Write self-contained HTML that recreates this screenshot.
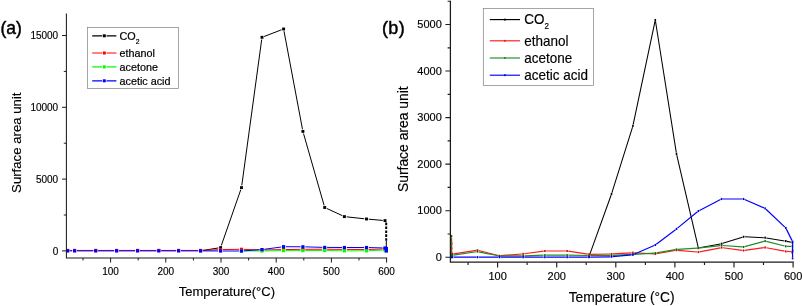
<!DOCTYPE html>
<html lang="en">
<head>
<meta charset="utf-8">
<title>Surface area unit vs Temperature</title>
<style>
html,body{margin:0;padding:0;background:#fff;}
body{width:802px;height:306px;overflow:hidden;}
svg{display:block;font-family:"Liberation Sans",Arial,Helvetica,sans-serif;fill:#000;}
.t10{font-size:10px;stroke:#000;stroke-width:0.15px;}
.sw{stroke:#000;stroke-width:0.15px;}
.t11{font-size:11px;stroke:#000;stroke-width:0.15px;}
.pl{font-size:17.5px;stroke:#000;stroke-width:0.45px;}
</style>
</head>
<body>
<svg width="802" height="306" viewBox="0 0 802 306">
<rect width="802" height="306" fill="#fff"/>
<!-- panel (a) -->
<g id="panel-a">
<text x="110.6" y="274.9" text-anchor="middle" class="t10">100</text><text x="165.8" y="274.9" text-anchor="middle" class="t10">200</text><text x="221.0" y="274.9" text-anchor="middle" class="t10">300</text><text x="276.2" y="274.9" text-anchor="middle" class="t10">400</text><text x="331.4" y="274.9" text-anchor="middle" class="t10">500</text><text x="386.6" y="274.9" text-anchor="middle" class="t10">600</text><text x="58.2" y="254.5" text-anchor="end" class="t10">0</text><text x="58.2" y="182.7" text-anchor="end" class="t10">5000</text><text x="58.2" y="110.9" text-anchor="end" class="t10">10000</text><text x="58.2" y="39.1" text-anchor="end" class="t10">15000</text>
<g><path d="M202.82 250.44L218.38 247.96M221.34 245.48L240.76 189.72M241.80 185.37L261.70 39.53M264.10 36.49L281.50 29.81M284.02 31.21L302.48 129.19M303.52 133.56L324.08 205.34M326.74 208.44L342.36 215.66M346.64 216.84L364.26 218.76M368.74 219.19L382.76 220.41" fill="none" stroke="#000" stroke-width="1.0"/><rect x="199.15" y="249.35" width="2.9" height="2.9" fill="#000"/><rect x="219.15" y="246.15" width="2.9" height="2.9" fill="#000"/><rect x="240.05" y="186.15" width="2.9" height="2.9" fill="#000"/><rect x="260.55" y="35.85" width="2.9" height="2.9" fill="#000"/><rect x="282.15" y="27.55" width="2.9" height="2.9" fill="#000"/><rect x="301.45" y="129.95" width="2.9" height="2.9" fill="#000"/><rect x="323.25" y="206.05" width="2.9" height="2.9" fill="#000"/><rect x="342.95" y="215.15" width="2.9" height="2.9" fill="#000"/><rect x="365.05" y="217.55" width="2.9" height="2.9" fill="#000"/><rect x="383.55" y="219.15" width="2.9" height="2.9" fill="#000"/><path d="M386.2 222.6V241.5" stroke="#000" stroke-width="2" stroke-dasharray="2.6 1.3" fill="none"/><path d="M386.3 241V250" stroke="#000" stroke-width="1" fill="none"/><path d="M70.10 250.45L72.20 250.45M77.00 250.45L93.30 250.45M98.10 250.45L114.20 250.45M119.00 250.45L135.20 250.45M140.00 250.45L156.40 250.45M161.20 250.45L176.20 250.45M181.00 250.45L198.20 250.45M203.00 250.35L218.20 249.70M223.00 249.57L239.10 249.33M243.90 249.38L259.60 249.92M264.40 249.96L281.20 249.64M286.00 249.56L300.50 249.34M305.30 249.29L322.30 249.21M327.10 249.22L342.00 249.38M346.80 249.41L364.10 249.49M368.90 249.44L382.60 249.06" fill="none" stroke="#f00" stroke-width="1.0"/><rect x="66.10" y="248.85" width="3.2" height="3.2" fill="#f00"/><rect x="73.00" y="248.85" width="3.2" height="3.2" fill="#f00"/><rect x="94.10" y="248.85" width="3.2" height="3.2" fill="#f00"/><rect x="115.00" y="248.85" width="3.2" height="3.2" fill="#f00"/><rect x="136.00" y="248.85" width="3.2" height="3.2" fill="#f00"/><rect x="157.20" y="248.85" width="3.2" height="3.2" fill="#f00"/><rect x="177.00" y="248.85" width="3.2" height="3.2" fill="#f00"/><rect x="199.00" y="248.85" width="3.2" height="3.2" fill="#f00"/><rect x="219.00" y="248.00" width="3.2" height="3.2" fill="#f00"/><rect x="239.90" y="247.70" width="3.2" height="3.2" fill="#f00"/><rect x="260.40" y="248.40" width="3.2" height="3.2" fill="#f00"/><rect x="282.00" y="248.00" width="3.2" height="3.2" fill="#f00"/><rect x="301.30" y="247.70" width="3.2" height="3.2" fill="#f00"/><rect x="323.10" y="247.60" width="3.2" height="3.2" fill="#f00"/><rect x="342.80" y="247.80" width="3.2" height="3.2" fill="#f00"/><rect x="364.90" y="247.90" width="3.2" height="3.2" fill="#f00"/><rect x="383.40" y="247.40" width="3.2" height="3.2" fill="#f00"/><rect x="384.70" y="247.20" width="3.2" height="3.2" fill="#f00"/><rect x="384.70" y="248.60" width="3.2" height="3.2" fill="#f00"/><path d="M243.90 251.00L259.60 251.00M264.40 250.96L281.20 250.64M286.00 250.60L300.50 250.60M305.30 250.59L322.30 250.51M327.10 250.54L342.00 250.76M346.80 250.80L364.10 250.80M368.90 250.70L382.60 250.10" fill="none" stroke="#0f0" stroke-width="1.0"/><rect x="239.90" y="249.40" width="3.2" height="3.2" fill="#0f0"/><rect x="260.40" y="249.40" width="3.2" height="3.2" fill="#0f0"/><rect x="282.00" y="249.00" width="3.2" height="3.2" fill="#0f0"/><rect x="301.30" y="249.00" width="3.2" height="3.2" fill="#0f0"/><rect x="323.10" y="248.90" width="3.2" height="3.2" fill="#0f0"/><rect x="342.80" y="249.20" width="3.2" height="3.2" fill="#0f0"/><rect x="364.90" y="249.20" width="3.2" height="3.2" fill="#0f0"/><rect x="383.40" y="248.40" width="3.2" height="3.2" fill="#0f0"/><rect x="384.70" y="247.90" width="3.2" height="3.2" fill="#0f0"/><rect x="384.70" y="249.00" width="3.2" height="3.2" fill="#0f0"/><path d="M70.10 250.90L72.20 250.90M77.00 250.90L93.30 250.90M98.10 250.90L114.20 250.90M119.00 250.90L135.20 250.90M140.00 250.90L156.40 250.90M161.20 250.90L176.20 250.90M181.00 250.90L198.20 250.90M203.00 250.91L218.20 250.99M223.00 251.00L239.10 251.00M243.89 250.84L259.61 249.76M264.38 249.28L281.22 247.02M286.00 246.71L300.50 246.79M305.30 246.87L322.30 247.33M327.10 247.41L342.00 247.49M346.80 247.50L364.10 247.50M368.90 247.56L382.60 247.94" fill="none" stroke="#00f" stroke-width="1.0"/><rect x="66.10" y="249.30" width="3.2" height="3.2" fill="#00f"/><rect x="73.00" y="249.30" width="3.2" height="3.2" fill="#00f"/><rect x="94.10" y="249.30" width="3.2" height="3.2" fill="#00f"/><rect x="115.00" y="249.30" width="3.2" height="3.2" fill="#00f"/><rect x="136.00" y="249.30" width="3.2" height="3.2" fill="#00f"/><rect x="157.20" y="249.30" width="3.2" height="3.2" fill="#00f"/><rect x="177.00" y="249.30" width="3.2" height="3.2" fill="#00f"/><rect x="199.00" y="249.30" width="3.2" height="3.2" fill="#00f"/><rect x="219.00" y="249.40" width="3.2" height="3.2" fill="#00f"/><rect x="239.90" y="249.40" width="3.2" height="3.2" fill="#00f"/><rect x="260.40" y="248.00" width="3.2" height="3.2" fill="#00f"/><rect x="282.00" y="245.10" width="3.2" height="3.2" fill="#00f"/><rect x="301.30" y="245.20" width="3.2" height="3.2" fill="#00f"/><rect x="323.10" y="245.80" width="3.2" height="3.2" fill="#00f"/><rect x="342.80" y="245.90" width="3.2" height="3.2" fill="#00f"/><rect x="364.90" y="245.90" width="3.2" height="3.2" fill="#00f"/><rect x="383.40" y="246.40" width="3.2" height="3.2" fill="#00f"/><rect x="384.70" y="246.90" width="3.2" height="3.2" fill="#00f"/><rect x="384.70" y="249.40" width="3.2" height="3.2" fill="#00f"/></g>
<path d="M66.4 14.0V257.9H386.6" fill="none" stroke="#1c1c1c" stroke-width="1.05" stroke-linecap="square"/><path d="M83.0 257.9v2.6 M110.6 257.9v4.7 M138.2 257.9v2.6 M165.8 257.9v4.7 M193.4 257.9v2.6 M221.0 257.9v4.7 M248.6 257.9v2.6 M276.2 257.9v4.7 M303.8 257.9v2.6 M331.4 257.9v4.7 M359.0 257.9v2.6 M386.6 257.9v4.7 M66.4 250.9h-4.4 M66.4 215.0h-2.6 M66.4 179.1h-4.4 M66.4 143.2h-2.6 M66.4 107.3h-4.4 M66.4 71.4h-2.6 M66.4 35.5h-4.4" fill="none" stroke="#1c1c1c" stroke-width="1.0"/>
<rect x="87.5" y="27.6" width="91.0" height="60.8" fill="#fff" stroke="#7f7f7f" stroke-width="0.7"/><path d="M92.2 35.8H102.10M106.50 35.8H116.4" stroke="#000" stroke-width="1.2"/><rect x="102.80" y="34.30" width="3.0" height="3.0" fill="#000"/><text x="119.5" y="39.5" font-size="10.8" stroke="#000" stroke-width="0.2">CO<tspan dy="4.2" font-size="6.8">2</tspan></text><path d="M92.2 53.0H102.10M106.50 53.0H116.4" stroke="#f00" stroke-width="1.2"/><rect x="102.80" y="51.50" width="3.0" height="3.0" fill="#f00"/><text x="119.5" y="57.0" font-size="10.8" stroke="#000" stroke-width="0.2">ethanol</text><path d="M92.2 66.9H102.10M106.50 66.9H116.4" stroke="#0f0" stroke-width="1.2"/><rect x="102.80" y="65.40" width="3.0" height="3.0" fill="#0f0"/><text x="119.5" y="71.0" font-size="10.8" stroke="#000" stroke-width="0.2">acetone</text><path d="M92.2 80.8H102.10M106.50 80.8H116.4" stroke="#00f" stroke-width="1.2"/><rect x="102.80" y="79.30" width="3.0" height="3.0" fill="#00f"/><text x="119.5" y="84.7" font-size="10.8" stroke="#000" stroke-width="0.2">acetic acid</text>
<text class="pl" x="0.5" y="34.1">(a)</text>
<text x="226.9" y="295.6" text-anchor="middle" font-size="13" class="sw">Temperature(°C)</text>
<text transform="translate(20.9 142.7) rotate(-90)" text-anchor="middle" font-size="13.2" class="sw">Surface area unit</text>
</g>
<!-- panel (b) -->
<g id="panel-b">
<text x="497.6" y="280.3" text-anchor="middle" class="t11">100</text><text x="556.7" y="280.3" text-anchor="middle" class="t11">200</text><text x="615.8" y="280.3" text-anchor="middle" class="t11">300</text><text x="674.9" y="280.3" text-anchor="middle" class="t11">400</text><text x="734.0" y="280.3" text-anchor="middle" class="t11">500</text><text x="793.1" y="280.3" text-anchor="middle" class="t11">600</text><text x="441.8" y="260.9" text-anchor="end" class="t11">0</text><text x="441.8" y="214.3" text-anchor="end" class="t11">1000</text><text x="441.8" y="167.7" text-anchor="end" class="t11">2000</text><text x="441.8" y="121.2" text-anchor="end" class="t11">3000</text><text x="441.8" y="74.6" text-anchor="end" class="t11">4000</text><text x="441.8" y="28.1" text-anchor="end" class="t11">5000</text>
<g><path d="M589.42 255.32L611.08 195.28M611.87 192.91L632.53 127.09M633.16 124.68L655.04 21.22M655.50 21.23L676.30 152.67M676.78 155.12L698.12 246.78M699.63 247.77L720.37 243.93M722.79 243.32L742.31 237.18M744.75 236.85L763.85 237.65M766.33 237.90L784.57 240.90M787.02 241.37L791.28 242.33" fill="none" stroke="#000" stroke-width="1.05"/><rect x="588.20" y="255.45" width="1.6" height="2.1" fill="#000"/><rect x="610.70" y="193.05" width="1.6" height="2.1" fill="#000"/><rect x="632.10" y="124.85" width="1.6" height="2.1" fill="#000"/><rect x="654.50" y="18.95" width="1.6" height="2.1" fill="#000"/><rect x="675.70" y="152.85" width="1.6" height="2.1" fill="#000"/><rect x="697.60" y="246.95" width="1.6" height="2.1" fill="#000"/><rect x="720.80" y="242.65" width="1.6" height="2.1" fill="#000"/><rect x="742.70" y="235.75" width="1.6" height="2.1" fill="#000"/><rect x="764.30" y="236.65" width="1.6" height="2.1" fill="#000"/><rect x="785.00" y="240.05" width="1.6" height="2.1" fill="#000"/><rect x="791.70" y="241.55" width="1.6" height="2.1" fill="#000"/><path d="M451.60 244.25L451.60 246.75M451.60 249.25L451.60 251.75M453.64 253.81L476.16 250.39M478.61 250.51L498.29 255.49M500.75 255.70L521.85 254.00M524.34 253.74L543.66 251.16M546.15 251.00L565.85 251.00M568.34 251.19L587.76 254.11M590.25 254.28L610.25 254.02M612.75 253.92L631.65 252.78M634.15 252.77L654.05 253.93M656.53 253.78L675.27 250.42M677.75 250.31L697.15 251.99M699.63 251.86L720.37 247.84M722.84 247.76L742.26 250.34M744.74 250.33L763.86 247.67M766.33 247.73L784.57 251.17M787.05 251.47L791.25 251.73" fill="none" stroke="#ff1a1a" stroke-width="1.2"/><rect x="450.80" y="241.95" width="1.6" height="2.1" fill="#cc0c0c"/><rect x="450.80" y="246.95" width="1.6" height="2.1" fill="#cc0c0c"/><rect x="450.80" y="251.95" width="1.6" height="2.1" fill="#cc0c0c"/><rect x="451.60" y="252.95" width="1.6" height="2.1" fill="#cc0c0c"/><rect x="476.60" y="249.15" width="1.6" height="2.1" fill="#cc0c0c"/><rect x="498.70" y="254.75" width="1.6" height="2.1" fill="#cc0c0c"/><rect x="522.30" y="252.85" width="1.6" height="2.1" fill="#cc0c0c"/><rect x="544.10" y="249.95" width="1.6" height="2.1" fill="#cc0c0c"/><rect x="566.30" y="249.95" width="1.6" height="2.1" fill="#cc0c0c"/><rect x="588.20" y="253.25" width="1.6" height="2.1" fill="#cc0c0c"/><rect x="610.70" y="252.95" width="1.6" height="2.1" fill="#cc0c0c"/><rect x="632.10" y="251.65" width="1.6" height="2.1" fill="#cc0c0c"/><rect x="654.50" y="252.95" width="1.6" height="2.1" fill="#cc0c0c"/><rect x="675.70" y="249.15" width="1.6" height="2.1" fill="#cc0c0c"/><rect x="697.60" y="251.05" width="1.6" height="2.1" fill="#cc0c0c"/><rect x="720.80" y="246.55" width="1.6" height="2.1" fill="#cc0c0c"/><rect x="742.70" y="249.45" width="1.6" height="2.1" fill="#cc0c0c"/><rect x="764.30" y="246.45" width="1.6" height="2.1" fill="#cc0c0c"/><rect x="785.00" y="250.35" width="1.6" height="2.1" fill="#cc0c0c"/><rect x="791.70" y="250.75" width="1.6" height="2.1" fill="#cc0c0c"/><rect x="791.40" y="251.45" width="1.6" height="2.1" fill="#cc0c0c"/><path d="M451.50 237.25L451.50 253.75M453.64 255.12L476.16 251.78M478.63 251.84L498.27 255.76M500.75 255.99L521.85 255.91M524.35 255.85L543.65 255.15M546.15 255.10L565.85 255.10M568.35 255.12L587.75 255.48M590.25 255.49L610.25 255.41M612.75 255.34L631.65 254.46M634.15 254.33L654.05 253.17M656.53 252.89L675.27 249.61M677.75 249.33L697.15 248.17M699.64 247.96L720.36 245.54M722.85 245.49L742.25 246.91M744.71 246.67L763.89 241.43M766.31 241.40L784.59 246.00M787.05 246.30L791.25 246.30M792.53 247.55L792.57 249.25" fill="none" stroke="#1e8c28" stroke-width="1.2"/><rect x="450.70" y="234.95" width="1.6" height="2.1" fill="#0e6416"/><rect x="450.70" y="253.95" width="1.6" height="2.1" fill="#0e6416"/><rect x="451.60" y="254.25" width="1.6" height="2.1" fill="#0e6416"/><rect x="476.60" y="250.55" width="1.6" height="2.1" fill="#0e6416"/><rect x="498.70" y="254.95" width="1.6" height="2.1" fill="#0e6416"/><rect x="522.30" y="254.85" width="1.6" height="2.1" fill="#0e6416"/><rect x="544.10" y="254.05" width="1.6" height="2.1" fill="#0e6416"/><rect x="566.30" y="254.05" width="1.6" height="2.1" fill="#0e6416"/><rect x="588.20" y="254.45" width="1.6" height="2.1" fill="#0e6416"/><rect x="610.70" y="254.35" width="1.6" height="2.1" fill="#0e6416"/><rect x="632.10" y="253.35" width="1.6" height="2.1" fill="#0e6416"/><rect x="654.50" y="252.05" width="1.6" height="2.1" fill="#0e6416"/><rect x="675.70" y="248.35" width="1.6" height="2.1" fill="#0e6416"/><rect x="697.60" y="247.05" width="1.6" height="2.1" fill="#0e6416"/><rect x="720.80" y="244.35" width="1.6" height="2.1" fill="#0e6416"/><rect x="742.70" y="245.95" width="1.6" height="2.1" fill="#0e6416"/><rect x="764.30" y="240.05" width="1.6" height="2.1" fill="#0e6416"/><rect x="785.00" y="245.25" width="1.6" height="2.1" fill="#0e6416"/><rect x="791.70" y="245.25" width="1.6" height="2.1" fill="#0e6416"/><rect x="791.80" y="249.45" width="1.6" height="2.1" fill="#0e6416"/><path d="M453.65 257.20L476.15 257.20M478.65 257.20L498.25 257.20M500.75 257.20L521.85 257.20M524.35 257.20L543.65 257.20M546.15 257.20L565.85 257.20M568.35 257.20L587.75 257.20M590.25 257.18L610.25 256.82M612.74 256.68L631.66 254.82M634.05 254.20L654.15 245.50M656.30 244.24L675.50 229.66M677.47 228.11L697.43 211.79M699.51 210.43L720.49 199.57M722.85 199.00L742.25 199.00M744.65 199.50L763.95 207.90M766.01 209.26L784.89 227.14M786.36 229.12L791.94 240.38M792.51 242.75L792.59 257.05" fill="none" stroke="#00f" stroke-width="1.2"/><rect x="450.40" y="256.15" width="1.6" height="2.1" fill="#0000c4"/><rect x="451.60" y="256.15" width="1.6" height="2.1" fill="#0000c4"/><rect x="476.60" y="256.15" width="1.6" height="2.1" fill="#0000c4"/><rect x="498.70" y="256.15" width="1.6" height="2.1" fill="#0000c4"/><rect x="522.30" y="256.15" width="1.6" height="2.1" fill="#0000c4"/><rect x="544.10" y="256.15" width="1.6" height="2.1" fill="#0000c4"/><rect x="566.30" y="256.15" width="1.6" height="2.1" fill="#0000c4"/><rect x="588.20" y="256.15" width="1.6" height="2.1" fill="#0000c4"/><rect x="610.70" y="255.75" width="1.6" height="2.1" fill="#0000c4"/><rect x="632.10" y="253.65" width="1.6" height="2.1" fill="#0000c4"/><rect x="654.50" y="243.95" width="1.6" height="2.1" fill="#0000c4"/><rect x="675.70" y="227.85" width="1.6" height="2.1" fill="#0000c4"/><rect x="697.60" y="209.95" width="1.6" height="2.1" fill="#0000c4"/><rect x="720.80" y="197.95" width="1.6" height="2.1" fill="#0000c4"/><rect x="742.70" y="197.95" width="1.6" height="2.1" fill="#0000c4"/><rect x="764.30" y="207.35" width="1.6" height="2.1" fill="#0000c4"/><rect x="785.00" y="226.95" width="1.6" height="2.1" fill="#0000c4"/><rect x="791.70" y="240.45" width="1.6" height="2.1" fill="#0000c4"/><rect x="791.80" y="257.25" width="1.6" height="2.1" fill="#0000c4"/><rect x="450.90" y="239.30" width="1.4" height="1.4" fill="#ff1a1a"/><rect x="450.90" y="243.80" width="1.4" height="1.4" fill="#ff1a1a"/><rect x="450.90" y="248.30" width="1.4" height="1.4" fill="#ff1a1a"/><rect x="450.90" y="251.80" width="1.4" height="1.4" fill="#ff1a1a"/></g>
<path d="M450.4 1.4V262.2H793.2" fill="none" stroke="#1c1c1c" stroke-width="1.25" stroke-linecap="square"/><path d="M468.1 262.2v2.8 M497.6 262.2v5.3 M527.1 262.2v2.8 M556.7 262.2v5.3 M586.2 262.2v2.8 M615.8 262.2v5.3 M645.4 262.2v2.8 M674.9 262.2v5.3 M704.5 262.2v2.8 M734.0 262.2v5.3 M763.5 262.2v2.8 M793.1 262.2v5.3 M450.4 257.2h-5.0 M450.4 234.0h-2.8 M450.4 210.7h-5.0 M450.4 187.4h-2.8 M450.4 164.1h-5.0 M450.4 140.9h-2.8 M450.4 117.6h-5.0 M450.4 94.3h-2.8 M450.4 71.0h-5.0 M450.4 47.8h-2.8 M450.4 24.5h-5.0 M450.4 1.2h-2.8" fill="none" stroke="#1c1c1c" stroke-width="1.15"/>
<rect x="483.3" y="8.5" width="110.2" height="77.1" fill="#fff" stroke="#7f7f7f" stroke-width="0.7"/><path d="M489.8 19.6H520.0" stroke="#000" stroke-width="1.15"/><rect x="504.00" y="18.70" width="1.8" height="1.8" fill="#000"/><text transform="translate(524.2 24.25) scale(1 1.15)" font-size="13.5" stroke="#000" stroke-width="0.15">CO<tspan dy="4.0" font-size="8.0">2</tspan></text><path d="M489.8 40.8H520.0" stroke="#ff1a1a" stroke-width="1.15"/><rect x="504.00" y="39.90" width="1.8" height="1.8" fill="#ff1a1a"/><text transform="translate(524.2 46.0) scale(1 1.15)" font-size="13.5" stroke="#000" stroke-width="0.15">ethanol</text><path d="M489.8 58.0H520.0" stroke="#1e8c28" stroke-width="1.15"/><rect x="504.00" y="57.10" width="1.8" height="1.8" fill="#1e8c28"/><text transform="translate(524.2 63.3) scale(1 1.15)" font-size="13.5" stroke="#000" stroke-width="0.15">acetone</text><path d="M489.8 75.2H520.0" stroke="#00f" stroke-width="1.15"/><rect x="504.00" y="74.30" width="1.8" height="1.8" fill="#00f"/><text transform="translate(524.2 80.1) scale(1 1.15)" font-size="13.5" stroke="#000" stroke-width="0.15">acetic acid</text>
<text class="pl" x="381.9" y="33.9" style="font-size:18px;letter-spacing:0.4px">(b)</text>
<text x="621.7" y="302.2" text-anchor="middle" font-size="13.8" class="sw">Temperature (°C)</text>
<text transform="translate(408.4 139.2) rotate(-90)" text-anchor="middle" font-size="13.9" class="sw">Surface area unit</text>
</g>
</svg>
</body>
</html>
